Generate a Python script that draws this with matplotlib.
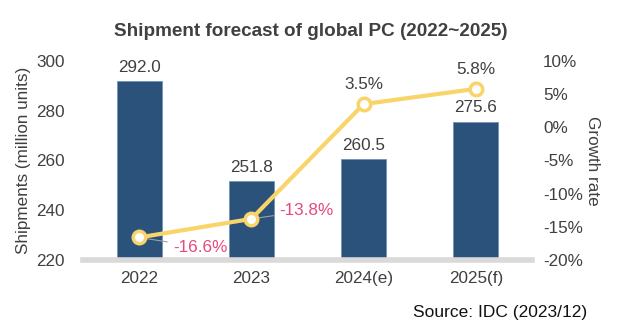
import matplotlib.pyplot as plt

plt.rcParams['font.family'] = ['Liberation Sans', 'DejaVu Sans']

# data
years = ["2022", "2023", "2024(e)", "2025(f)"]
shipments = [292.0, 251.8, 260.5, 275.6]
growth = [-16.6, -13.8, 3.5, 5.8]

bar_color = "#2a527a"
line_color = "#f8d46a"
pink = "#e8497b"
text_gray = "#404040"

fig = plt.figure(figsize=(6.22, 3.27), dpi=100)
ax = fig.add_axes([83 / 622, 1 - 260 / 327, (532 - 83) / 622, (260 - 61) / 327])
x = range(len(years))

ax.bar(x, [s - 220 for s in shipments], bottom=220, width=0.4, color=bar_color,
       edgecolor="#6f93b8", linewidth=0.6, zorder=2)
ax.set_ylim(220, 300)
ax.set_xlim(-0.5, 3.5)
ax.set_yticks([220, 240, 260, 280, 300])
ax.set_xticks(list(x))
ax.set_xticklabels(years)
ax.tick_params(length=0, labelsize=12.3, labelcolor=text_gray, pad=8)
ax.tick_params(axis='y', pad=13)
for s in ax.spines.values():
    s.set_visible(False)
ax.axhline(220, color="#d9d9d9", lw=4, zorder=3, clip_on=False)
ax.set_ylabel("Shipments (million units)", fontsize=12.3, color=text_gray, labelpad=4)

for i, s in enumerate(shipments):
    ax.text(i, s + 2.5, f"{s:.1f}", ha="center", va="bottom", fontsize=12.3, color=text_gray)

ax2 = ax.twinx()
ax2.plot(list(x), growth, color=line_color, lw=3, marker="o", markersize=9,
         markerfacecolor="white", markeredgecolor=line_color, markeredgewidth=2.5, zorder=4)
ax2.set_ylim(-20, 10)
ax2.set_yticks([-20, -15, -10, -5, 0, 5, 10])
ax2.set_yticklabels([f"{v}%" for v in [-20, -15, -10, -5, 0, 5, 10]])
ax2.tick_params(length=0, labelsize=12.3, labelcolor=text_gray, pad=8)
for s in ax2.spines.values():
    s.set_visible(False)
ax2.set_ylabel("Growth rate", fontsize=12.3, color=text_gray, rotation=270, labelpad=12)

# growth labels
ax2.annotate(f"{growth[0]}%", xy=(0, growth[0]), xytext=(0.30, growth[0] - 1.45),
             fontsize=12.3, color=pink, va="center", ha="left",
             arrowprops=dict(arrowstyle="-", color="#a0a0a0", lw=0.8, shrinkA=2, shrinkB=4))
ax2.annotate(f"{growth[1]}%", xy=(1, growth[1]), xytext=(1.25, growth[1] + 1.2),
             fontsize=12.3, color=pink, va="center", ha="left",
             arrowprops=dict(arrowstyle="-", color="#a0a0a0", lw=0.8, shrinkA=2, shrinkB=4))
for i in (2, 3):
    ax2.text(i, growth[i] + 1.8, f"{growth[i]}%", ha="center", va="bottom", fontsize=12.3, color=text_gray)

fig.text(0.5, 1 - 32 / 327, "Shipment forecast of global PC (2022~2025)", ha="center", va="center",
         fontsize=13.6, fontweight="bold", color=text_gray)
fig.text(587 / 622, 1 - 313 / 327, "Source: IDC (2023/12)", ha="right", va="center",
         fontsize=12.5, color="#111111")

fig.savefig("out.png", dpi=100)
